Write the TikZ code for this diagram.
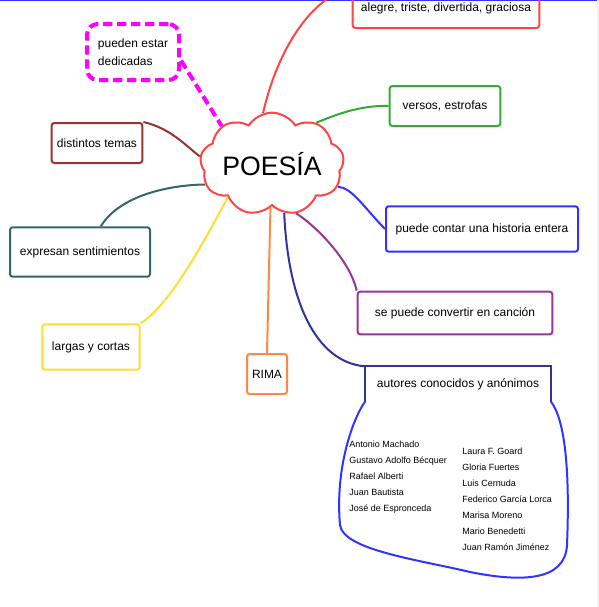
\documentclass[tikz,border=0pt]{standalone}
\usepackage{fontspec}
\setmainfont{Liberation Sans}
\usepackage{xcolor}
\usetikzlibrary{shapes.symbols}
\definecolor{rojoP}{HTML}{FF4444}
\definecolor{magentaP}{HTML}{FF00FF}
\definecolor{verdeP}{HTML}{33AA33}
\definecolor{granateP}{HTML}{993333}
\definecolor{azulverdeP}{HTML}{336666}
\definecolor{amarilloP}{HTML}{FFDD33}
\definecolor{naranjaP}{HTML}{FF8844}
\definecolor{azulP}{HTML}{3333FF}
\definecolor{moradoP}{HTML}{993399}
\definecolor{marinoP}{HTML}{333399}

\begin{document}
\begin{tikzpicture}[
    x=0.75pt, y=-0.75pt,
    caja/.style={rectangle, rounded corners=2pt, line width=1.5pt, align=center, inner sep=0pt, font=\fontsize{9}{13.5}\selectfont},
    nube/.style={cloud, cloud puffs=9, cloud puff arc=115, cloud ignores aspect, draw=rojoP, line width=1.5pt, inner xsep=-6pt, inner ysep=0pt, minimum width=108pt, minimum height=77pt, font=\fontsize{20}{24}\selectfont},
    autor/.style={align=left, inner sep=0pt, anchor=north west, font=\fontsize{6.75}{12}\selectfont},
    rayita/.style={dash pattern=on 7pt off 3.5pt, line width=3pt, draw=magentaP},
    enlace/.style={line width=1.5pt}
]
    \useasboundingbox (0,0) rectangle (599,607);
    \clip (0,0) rectangle (599,607);
    \draw[azulP, line width=1pt] (0,0.5) -- (599,0.5);
    \draw[gray!12, line width=1pt] (598,0) -- (598,607);

    % centro
    \node[nube] (poesia) at (272,164) {POESÍA};

    % ramas
    \node[caja, rayita, rounded corners=8pt, align=left, minimum width=69pt, minimum height=42pt] (dedicadas) at (133,52) {pueden estar\\dedicadas};
    \node[caja, draw=rojoP, minimum width=140pt, minimum height=30pt] (alegre) at (446,8) {alegre, triste, divertida, graciosa};
    \node[caja, draw=verdeP, minimum width=83pt, minimum height=30pt] (versos) at (445,106) {versos, estrofas};
    \node[caja, draw=granateP, minimum width=68pt, minimum height=30pt] (temas) at (97,143) {distintos temas};
    \node[caja, draw=azulverdeP, minimum width=105pt, minimum height=37pt] (sentimientos) at (80,252) {expresan sentimientos};
    \node[caja, draw=amarilloP, minimum width=73pt, minimum height=34pt] (largas) at (91,347) {largas y cortas};
    \node[caja, draw=naranjaP, minimum width=30pt, minimum height=30pt] (rima) at (267,374) {RIMA};
    \node[caja, draw=azulP, minimum width=144pt, minimum height=34pt] (historia) at (482,229) {puede contar una historia entera};
    \node[caja, draw=moradoP, minimum width=146pt, minimum height=32pt] (cancion) at (455,313) {se puede convertir en canción};
    \node[caja, minimum width=138pt, minimum height=25pt] (autores) at (458,384) {autores conocidos y anónimos};

    % nombres
    \node[autor] (lista1) at (349,441) {Antonio Machado\\Gustavo Adolfo Bécquer\\Rafael Alberti\\Juan Bautista\\José de Espronceda};
    \node[autor] (lista2) at (462,448) {Laura F. Goard\\Gloria Fuertes\\Luis Cernuda\\Federico García Lorca\\Marisa Moreno\\Mario Benedetti\\Juan Ramón Jiménez};

    % conectores
    \draw[rayita] (dedicadas.-10) -- (poesia.143);
    \draw[enlace, rojoP] (poesia.100) .. controls (275,60) and (305,0) .. (alegre.north west);
    \draw[enlace, verdeP] (poesia.43) .. controls (335,115) and (360,105) .. (versos.west);
    \draw[enlace, granateP] (temas.north east) .. controls (170,128) and (185,145) .. (poesia.174);
    \draw[enlace, azulverdeP] (sentimientos.51) .. controls (120,195) and (170,185) .. (poesia.197);
    \draw[enlace, amarilloP] (largas.north east) .. controls (170,305) and (205,240) .. (poesia.217);
    \draw[enlace, naranjaP] (rima.north) -- (poesia.268);
    \draw[enlace, azulP] (poesia.-19) .. controls (352,188) and (362,205) .. (historia.west);
    \draw[enlace, moradoP] (poesia.-64) .. controls (315,225) and (350,260) .. (cancion.north west);
    \draw[enlace, marinoP] (poesia.-76) .. controls (288,300) and (315,362) .. (autores.north west);

    % marco de autores
    \draw[enlace, marinoP] (autores.south west) -- (autores.north west) -- (autores.north east) -- (autores.south east);
    \draw[enlace, azulP] (autores.south west) .. controls (352,420) and (335,470) .. (340,525)
        .. controls (343,550) and (420,560) .. (470,572)
        .. controls (520,582) and (565,582) .. (567,545)
        .. controls (570,470) and (565,420) .. (autores.south east);
\end{tikzpicture}
\end{document}
